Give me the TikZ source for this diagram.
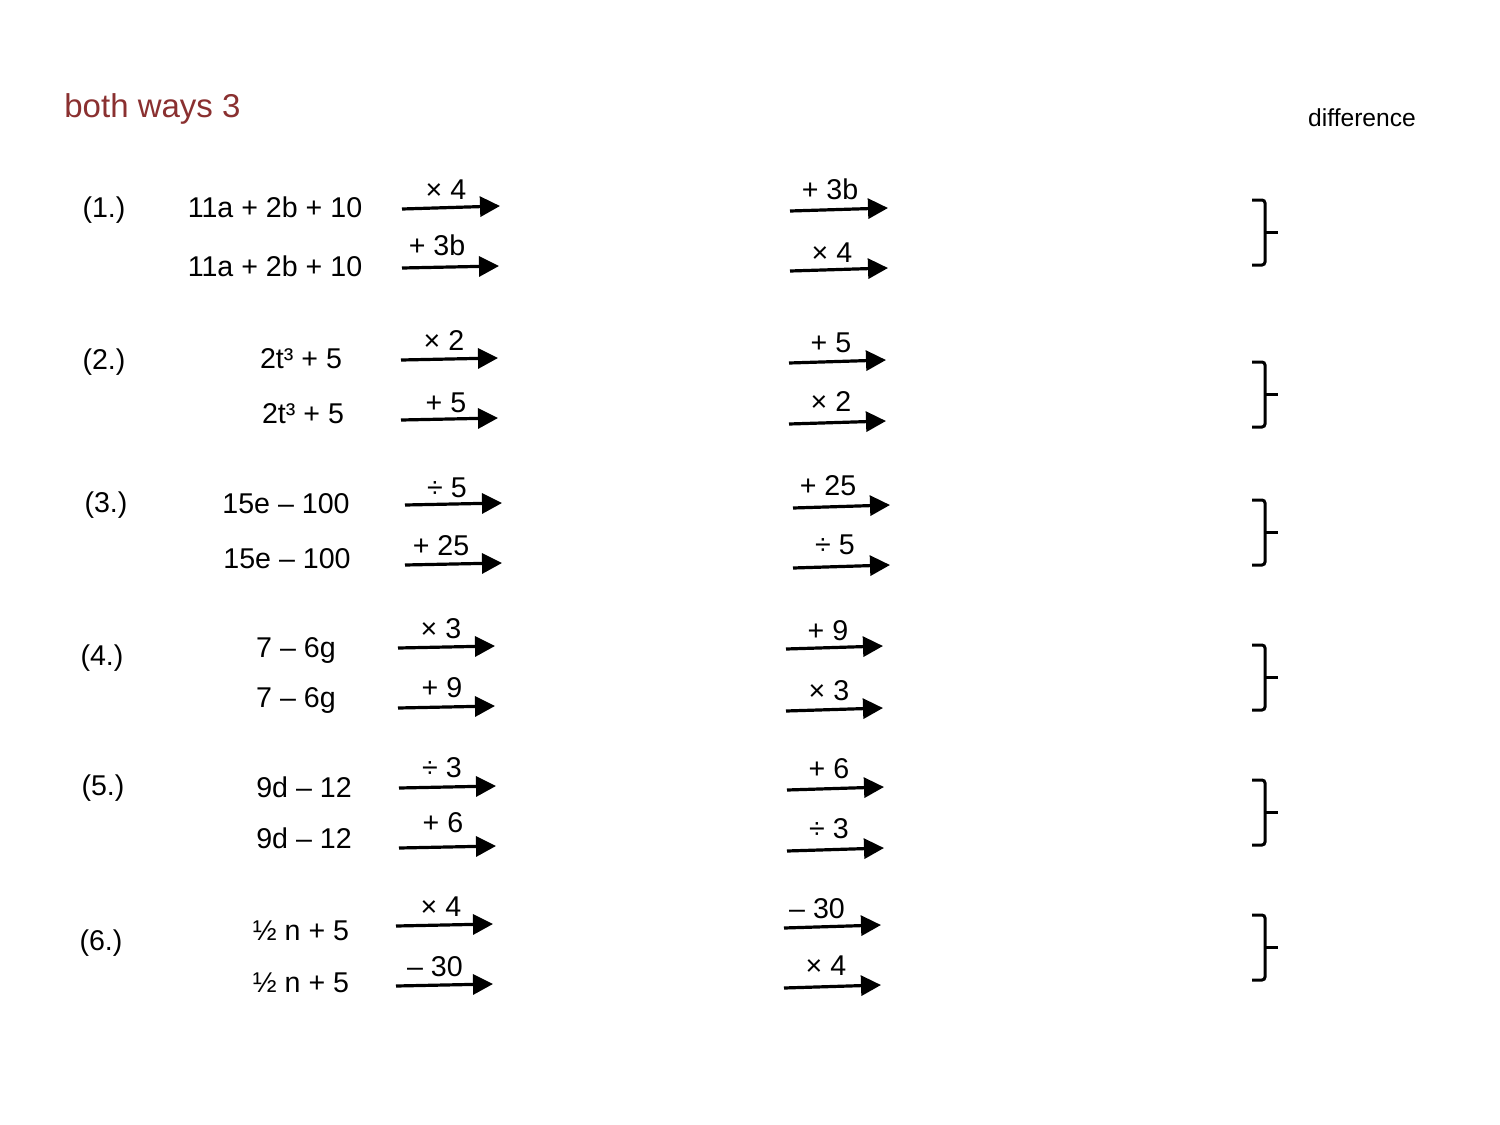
\documentclass[tikz,border=0pt]{standalone}
\usepackage{fontspec}
\setmainfont{Liberation Sans}
\usetikzlibrary{arrows.meta}
\definecolor{titlered}{RGB}{138,48,48}

\begin{document}
\begin{tikzpicture}[x=0.5pt, y=-0.5pt,
    expr/.style = {anchor=base, inner sep=0pt, font=\fontsize{14.3}{17}\selectfont},
    oplbl/.style = {anchor=base, inner sep=0pt, font=\fontsize{14.3}{17}\selectfont},
    op/.style = {line width=1.6pt, -{Triangle[length=10pt,width=10pt]}},
    brk/.style = {line width=1.5pt, rounded corners=1.5pt}]
  \useasboundingbox (0,0) rectangle (1500,1125);
  % headings
  \node[anchor=base west, inner sep=0pt, text=titlered, font=\fontsize{16.5}{20}\selectfont] (title) at (64,117) {both ways 3};
  \node[anchor=base, inner sep=0pt, font=\fontsize{12.3}{15}\selectfont] (diff) at (1362,126) {difference};
  % question numbers
  \node[expr] (q1) at (104,217) {(1.)};
  \node[expr] (q2) at (104,369) {(2.)};
  \node[expr] (q3) at (106,512) {(3.)};
  \node[expr] (q4) at (102,665) {(4.)};
  \node[expr] (q5) at (103,795) {(5.)};
  \node[expr] (q6) at (101,950) {(6.)};
  % expressions
  \node[expr] (e1a) at (275,217) {11a + 2b + 10};
  \node[expr] (e1b) at (275,276) {11a + 2b + 10};
  \node[expr] (e2a) at (301,368) {2t³ + 5};
  \node[expr] (e2b) at (303,423) {2t³ + 5};
  \node[expr] (e3a) at (286,513) {15e – 100};
  \node[expr] (e3b) at (287,568) {15e – 100};
  \node[expr] (e4a) at (296,657) {7 – 6g};
  \node[expr] (e4b) at (296,707) {7 – 6g};
  \node[expr] (e5a) at (304,797) {9d – 12};
  \node[expr] (e5b) at (304,848) {9d – 12};
  \node[expr] (e6a) at (301,940) {½ n + 5};
  \node[expr] (e6b) at (301,992) {½ n + 5};
  % operation arrows: name/start/end/label
  \foreach \nm/\xa/\ya/\xb/\yb/\lx/\ly/\t in {
      l1a/402/209/500/206/446/199/× 4,   l1b/402/268/499/266/437/255/+ 3b,
      r1a/790/211/888/208/830/199/+ 3b,  r1b/790/271/888/268/832/262/× 4,
      l2a/401/360/498/358/444/350/× 2,   l2b/401/420/498/418/446/412/+ 5,
      r2a/789/363/886/360/831/352/+ 5,   r2b/789/424/886/421/831/411/× 2,
      l3a/405/505/502/503/447/497/÷ 5,   l3b/405/565/502/563/441/555/+ 25,
      r3a/793/508/890/505/828/495/+ 25,  r3b/793/568/890/565/835/554/÷ 5,
      l4a/398/648/495/646/441/638/× 3,   l4b/398/708/495/706/442/697/+ 9,
      r4a/786/649/883/646/828/640/+ 9,   r4b/786/711/883/708/829/700/× 3,
      l5a/399/788/496/786/442/777/÷ 3,   l5b/399/848/496/846/443/832/+ 6,
      r5a/787/790/884/787/829/778/+ 6,   r5b/787/851/884/848/829/838/÷ 3,
      l6a/396/926/493/924/441/916/× 4,   l6b/396/986/493/984/435/976/– 30,
      r6a/784/928/881/925/817/918/– 30,  r6b/784/988/881/985/826/975/× 4}
  {
    \coordinate (\nm s) at (\xa,\ya);
    \coordinate (\nm e) at (\xb,\yb);
    \draw[op] (\nm s) -- (\nm e);
    \node[oplbl] (\nm t) at (\lx,\ly) {\t};
  }
  % brackets
  \foreach \top in {200,362,500,645,780,915}
  {
    \draw[brk] (1252,\top) -- (1265,\top) -- (1265,\top+65) -- (1252,\top+65);
    \draw[line width=1.5pt] (1265,\top+32) -- (1278,\top+32);
  }
\end{tikzpicture}
\end{document}
